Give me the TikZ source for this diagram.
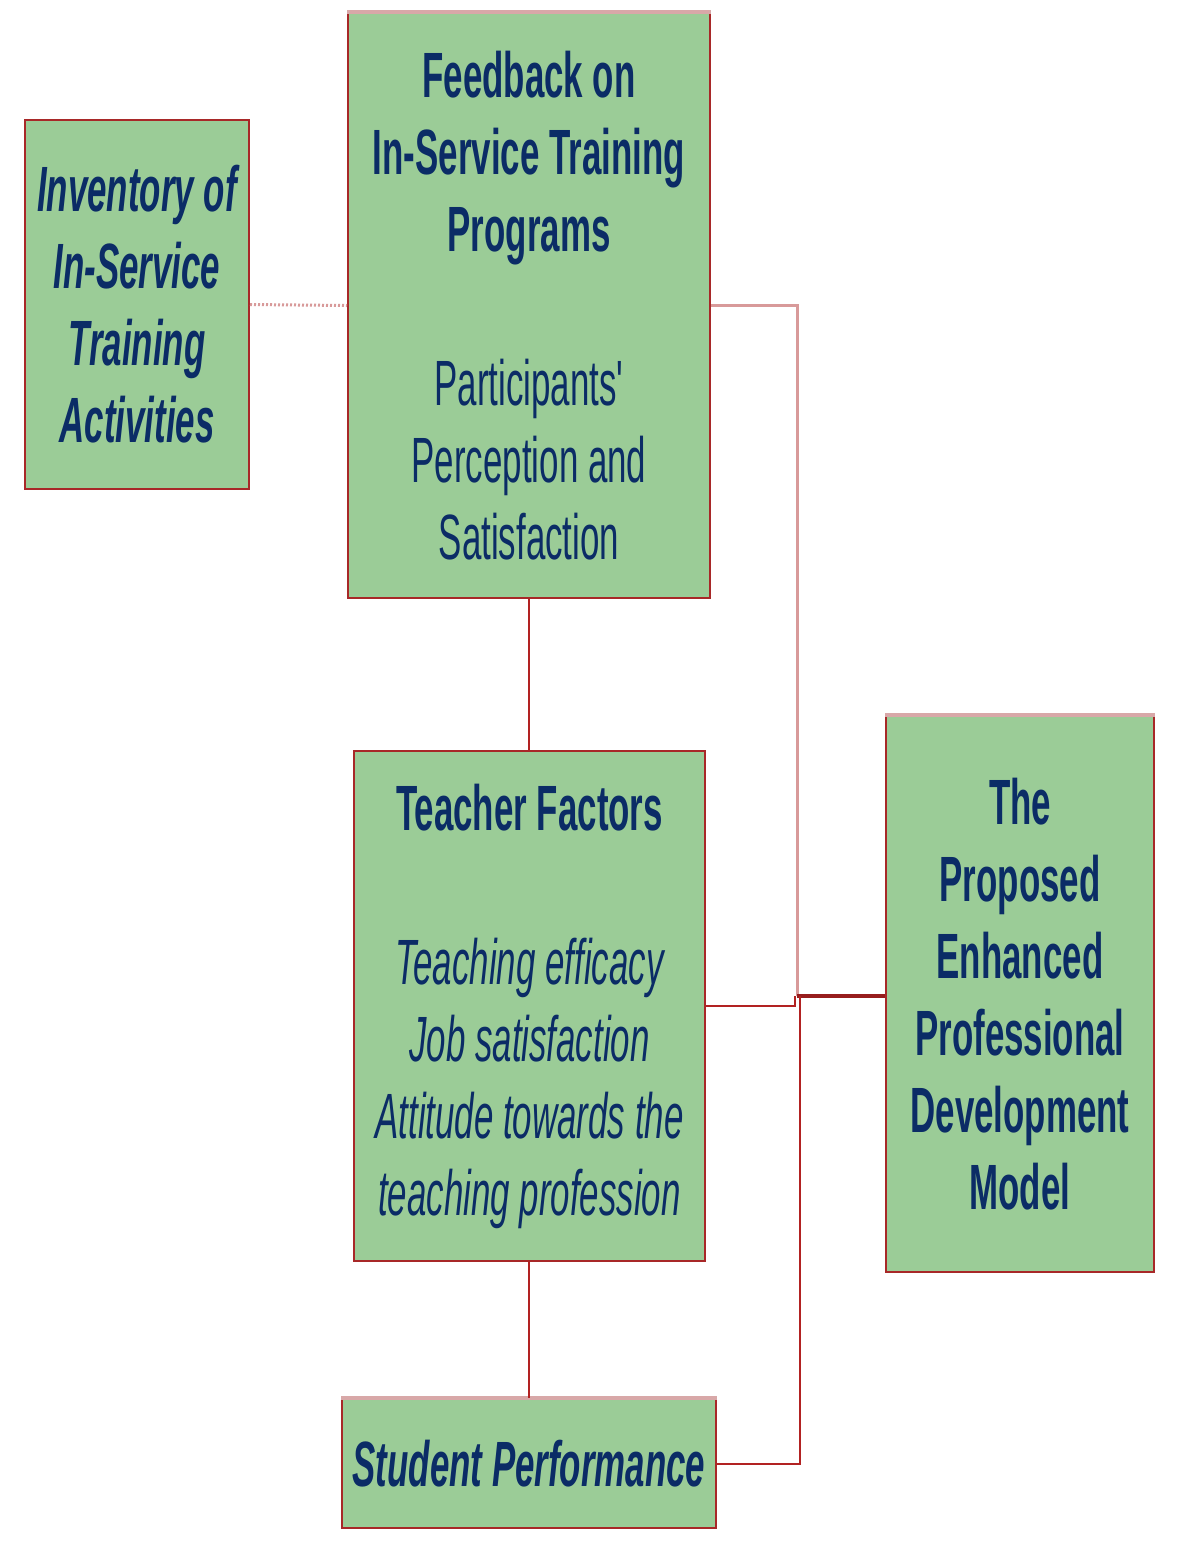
\documentclass[tikz,border=0pt]{standalone}
\usepackage{fontspec}
\newfontfamily\narrowfont[FakeStretch=0.545]{Liberation Sans}
\definecolor{boxfill}{HTML}{9BCC97}
\definecolor{boxtext}{HTML}{0B2C66}
\definecolor{boxedge}{HTML}{A82828}
\definecolor{connred}{HTML}{B22222}
\definecolor{connpink}{HTML}{D89A9A}
\definecolor{toppink}{HTML}{D8A8A8}
\begin{document}
\begin{tikzpicture}[x=1pt,y=-1pt,
  box/.style={draw=boxedge, line width=2pt, fill=boxfill, text=boxtext, align=center,
    inner sep=0pt, font=\narrowfont\fontsize{64}{77}\selectfont},
  conn/.style={draw=connred, line width=2pt},
  pinkconn/.style={draw=connpink, line width=3pt},
  thickconn/.style={draw=connred!85!black, line width=4pt},
  dotconn/.style={draw=connpink, line width=3pt, dash pattern=on 2pt off 2pt},
  topline/.style={draw=toppink, line width=4pt}]
\useasboundingbox (0,0) rectangle (1200,1553);
\fill[white] (0,0) rectangle (1200,1553);

\node[box, minimum width=224pt, minimum height=369pt] (inv) at (137,304.5)
  {\bfseries\itshape Inventory of\\ \bfseries\itshape In-Service\\ \bfseries\itshape Training\\ \bfseries\itshape Activities};

\node[box, minimum width=362pt, minimum height=585pt] (fb) at (529,305.5)
  {\bfseries Feedback on\\ \bfseries In-Service Training\\ \bfseries Programs\\[77pt] Participants'\\ Perception and\\ Satisfaction};

\node[box, minimum width=351pt, minimum height=510pt] (tf) at (529.5,1006)
  {\bfseries Teacher Factors\\[77pt] \itshape Teaching efficacy\\ \itshape Job satisfaction\\ \itshape Attitude towards the\\ \itshape teaching profession};

\node[box, minimum width=268pt, minimum height=556pt] (pm) at (1020,994)
  {\bfseries The\\ \bfseries Proposed\\ \bfseries Enhanced\\ \bfseries Professional\\ \bfseries Development\\ \bfseries Model};

\node[box, minimum width=374pt, minimum height=129pt] (sp) at (529,1463.5)
  {\bfseries\itshape Student Performance};

\draw[topline] (fb.north west) -- (fb.north east);
\draw[topline] (pm.north west) -- (pm.north east);
\draw[topline] (sp.north west) -- (sp.north east);

\coordinate (j) at (797,996);

\draw[dotconn] (inv.east) -- (fb.west);
\draw[pinkconn] (fb.east) -| (j);
\draw[thickconn] (j) -- (j -| pm.west);
\draw[conn] (tf.east) -| ([xshift=-2pt]j);
\draw[conn] (sp.east) -| ([xshift=3pt]j);
\draw[conn] (fb.south) -- (fb.south |- tf.north);
\draw[conn] (sp.north |- tf.south) -- (sp.north);
\end{tikzpicture}
\end{document}
